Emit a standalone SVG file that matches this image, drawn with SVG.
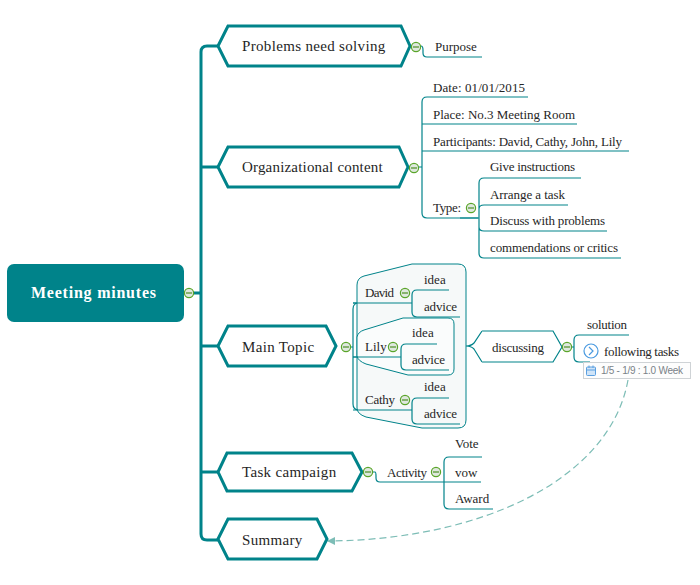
<svg xmlns="http://www.w3.org/2000/svg" width="700" height="585" viewBox="0 0 700 585">
<style>
text{font-family:"Liberation Serif","Times New Roman",serif;fill:#262626;font-size:13px}
.t{font-size:15px;letter-spacing:.33px}
.hex{fill:#fff;stroke:#00838a;stroke-width:3}
.trunk{fill:none;stroke:#00838a;stroke-width:3}
.c{fill:none;stroke:#00838a;stroke-width:1.2}
</style>
<defs>
<g id="col"><circle r="4.6" fill="#dfe8df" stroke="#5aa52a" stroke-width="1.2"/><path d="M-3 0H3" stroke="#4d8f25" stroke-width="1.2"/></g>
<marker id="arr" markerWidth="10" markerHeight="10" refX="7" refY="4" orient="auto" markerUnits="userSpaceOnUse"><path d="M0 0L8 4L0 8Z" fill="#7dbdb6"/></marker>
</defs>
<rect width="700" height="585" fill="#fff"/>
<g id="connectors">
<path class="trunk" d="M218 46H207Q201 46 201 52V534Q201 540 207 540H218M201 167H218M190 293H201M201 346H218M201 472H218"/>
<path class="c" d="M421 46Q423 46 423 50V53Q423 57 427 57H482"/>
<path class="c" d="M419 167H422M528 97H427Q422 97 422 102V213Q422 218 427 218H478M422 124H577M422 151H629"/>
<path class="c" d="M581 178H484Q479 178 479 183V253Q479 258 484 258H621M479 209Q479 205 484 205H568M479 227Q479 231 484 231H607M460 218H479"/>
<path class="c" d="M373 472H375Q376 472 376 476V478Q376 482 380 482H481M482 457H449Q444 457 444 462V504Q444 509 449 509H493M444 482H481"/>
<path class="c" d="M351 347H353M359 303Q353 303 353 309V404Q353 410 359 410H412M353 303H412M353 357H401"/>
<path d="M628 380C610 480 480 540 328 541" fill="none" stroke="#7dbdb6" stroke-width="1.2" stroke-dasharray="7 4" marker-end="url(#arr)"/>
<path class="c" d="M572 347H574M629 335H579Q574 335 574 340V357Q574 362 579 362H590"/>
</g>
<g id="boundary-main"><path d="M357 285Q357 278 364 276L412 264H458Q466 264 466 272V420Q466 428 458 428H422L366 417Q357 414 357 408Z" fill="#f6f9f9" stroke="#00838a" stroke-width="1"/></g>
<g id="boundary-lily"><path d="M357 337Q358 332 364 330L403 318H448Q454 318 454 324V369Q454 375 448 375H408L366 364Q358 361 357 356Z" fill="#fafcfc" stroke="#00838a" stroke-width="1"/></g>
<g id="connectors-main">
<path class="c" d="M353 303H412M353 357H401M353 410H412"/>
<path class="c" d="M449 290H417Q412 290 412 295V312Q412 317 417 317H460M449 398H417Q412 398 412 403V419Q412 424 417 424H460M437 344H406Q401 344 401 349V365Q401 370 406 370H449"/>
<path class="c" d="M466 346Q471 346 474 343L482 331M466 346Q471 346 474 349L482 362"/>
</g>
<g id="root"><rect x="7" y="264" width="177" height="58" rx="7" fill="#00838a"/><text x="31" y="298" style="font-size:16px;font-weight:bold;fill:#fff;letter-spacing:.77px">Meeting minutes</text><use href="#col" x="189" y="293"/></g>
<g id="n-problems"><path class="hex" d="M218 46L228 26H401L410 46L401 66H228Z"/><text class="t" x="242" y="51">Problems need solving</text><use href="#col" x="416" y="47"/></g>
<g id="n-purpose"><text x="435" y="51">Purpose</text></g>
<g id="n-org"><path class="hex" d="M218 167L228 147H399L408 167L399 187H228Z"/><text class="t" x="242" y="172" textLength="141">Organizational content</text><use href="#col" x="414" y="168"/></g>
<g id="n-date"><text x="433" y="92" textLength="92">Date: 01/01/2015</text></g>
<g id="n-place"><text x="433" y="119" textLength="142">Place: No.3 Meeting Room</text></g>
<g id="n-part"><text x="433" y="146" textLength="189">Participants: David, Cathy, John, Lily</text></g>
<g id="n-type"><text x="433" y="212" textLength="28">Type:</text><use href="#col" x="471" y="208"/></g>
<g id="n-give"><text x="490" y="171" textLength="85">Give instructions</text></g>
<g id="n-arrange"><text x="490" y="199" textLength="75">Arrange a task</text></g>
<g id="n-discuss"><text x="490" y="225" textLength="115">Discuss with problems</text></g>
<g id="n-comm"><text x="490" y="252" textLength="128">commendations or critics</text></g>
<g id="n-main"><path class="hex" d="M218 346L228 326H326L336 346L326 366H228Z"/><text class="t" x="242" y="352">Main Topic</text><use href="#col" x="346" y="347"/></g>
<g id="n-david"><text x="365" y="297" textLength="29">David</text><use href="#col" x="405" y="293"/></g>
<g id="n-idea1"><text x="424" y="284">idea</text></g>
<g id="n-advice1"><text x="424" y="311" textLength="33">advice</text></g>
<g id="n-lily"><text x="365" y="351">Lily</text><use href="#col" x="393" y="347"/></g>
<g id="n-idea2"><text x="412" y="337">idea</text></g>
<g id="n-advice2"><text x="412" y="364" textLength="33">advice</text></g>
<g id="n-cathy"><text x="365" y="404" textLength="30">Cathy</text><use href="#col" x="405" y="400"/></g>
<g id="n-idea3"><text x="424" y="391">idea</text></g>
<g id="n-advice3"><text x="424" y="418" textLength="33">advice</text></g>
<g id="n-discussing"><path d="M482 331H553L562 347L553 362H482" fill="#fff" stroke="#00838a" stroke-width="1.2"/><text x="492" y="352" textLength="52">discussing</text><use href="#col" x="567" y="347"/></g>
<g id="n-solution"><text x="587" y="329" textLength="40">solution</text></g>
<g id="n-following"><circle cx="591" cy="351" r="7" fill="#fff" stroke="#4a9ae0" stroke-width="1.2"/><path d="M589 347L593 351L589 355" fill="none" stroke="#4a9ae0" stroke-width="1.2"/><text x="604" y="356" textLength="75">following tasks</text></g>
<g id="task-info"><rect x="583.500" y="362.500" width="107" height="16" fill="#fdfdfd" stroke="#cfd3d6"/><rect x="586.500" y="367" width="9" height="8.500" rx="1" fill="#cfe4f8" stroke="#5a9fe0"/><path d="M586.500 370H595.500M589 365.500V368M593 365.500V368" stroke="#5a9fe0" fill="none"/><text x="601" y="374" textLength="82" style="font-family:'Liberation Sans',Arial,sans-serif;font-size:10px;fill:#7a8288">1/5 - 1/9 : 1.0 Week</text></g>
<g id="n-campaign"><path class="hex" d="M218 472L227 453H352L362 472L352 491H227Z"/><text class="t" x="242" y="477">Task campaign</text><use href="#col" x="368" y="472"/></g>
<g id="n-activity"><text x="387" y="477" textLength="40">Activity</text><use href="#col" x="436" y="472"/></g>
<g id="n-vote"><text x="455" y="448">Vote</text></g>
<g id="n-vow"><text x="455" y="477">vow</text></g>
<g id="n-award"><text x="455" y="503">Award</text></g>
<g id="n-summary"><path class="hex" d="M218 539L228 519H317L327 539L317 559H228Z"/><text class="t" x="242" y="545">Summary</text></g>
</svg>
